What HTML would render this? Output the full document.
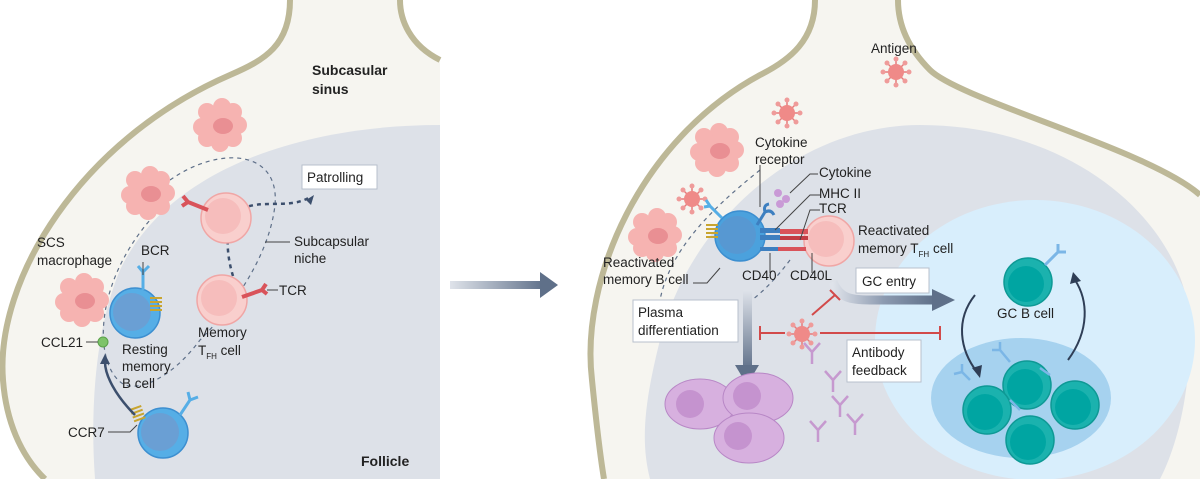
<!DOCTYPE html>
<html><head><meta charset="utf-8"><style>
html,body{margin:0;padding:0;background:#fff;}
svg{display:block;font-family:"Liberation Sans",sans-serif;}
.t{font-size:13.5px;fill:#222;}
.b{font-size:14px;font-weight:bold;fill:#222;}
</style></head><body>
<svg width="1200" height="479" viewBox="0 0 1200 479">
<defs>
<linearGradient id="ga" x1="0" x2="1"><stop offset="0" stop-color="#dfe3ea"/><stop offset="1" stop-color="#5f7089"/></linearGradient>
<linearGradient id="gd" x1="0" y1="0" x2="0" y2="1"><stop offset="0" stop-color="#dfe3ea"/><stop offset="1" stop-color="#5f7089"/></linearGradient>
<linearGradient id="gr" x1="0" x2="1"><stop offset="0" stop-color="#dfe3ea"/><stop offset="0.5" stop-color="#8c9ab0"/><stop offset="1" stop-color="#5f7089"/></linearGradient>
<g id="mac"><circle r="19" fill="#f6b3b1"/>
<circle cx="18" cy="0" r="9" fill="#f6b3b1"/><circle cx="-18" cy="2" r="9" fill="#f6b3b1"/><circle cx="0" cy="18" r="9" fill="#f6b3b1"/><circle cx="2" cy="-18" r="9" fill="#f6b3b1"/>
<circle cx="13" cy="13" r="9" fill="#f6b3b1"/><circle cx="-13" cy="-13" r="9" fill="#f6b3b1"/><circle cx="13" cy="-13" r="9" fill="#f6b3b1"/><circle cx="-13" cy="13" r="9" fill="#f6b3b1"/>
<ellipse cx="3" cy="1" rx="10" ry="8" fill="#e98f93"/></g>
<g id="vir"><g stroke="#e57a7a" stroke-width="1.5"><line x1="-13" y1="0" x2="13" y2="0"/><line x1="0" y1="-13" x2="0" y2="13"/><line x1="-9" y1="-9" x2="9" y2="9"/><line x1="-9" y1="9" x2="9" y2="-9"/></g>
<circle r="8" fill="#ef8a88"/><g fill="#ef9b9a"><circle cx="-13" r="2.5"/><circle cx="13" r="2.5"/><circle cy="-13" r="2.5"/><circle cy="13" r="2.5"/><circle cx="-9" cy="-9" r="2.5"/><circle cx="9" cy="9" r="2.5"/><circle cx="-9" cy="9" r="2.5"/><circle cx="9" cy="-9" r="2.5"/></g></g>
<g id="tc"><circle r="25" fill="#f9cfcd" stroke="#f0a6a5" stroke-width="1.5"/><circle cx="-3" cy="-2" r="18" fill="#f6bdbc"/></g>
<g id="bc"><circle r="25" fill="#56aee6" stroke="#3d8fd0" stroke-width="1.5"/><circle cx="-3" cy="-1" r="19" fill="#6a9fd4"/></g>
<g id="gc"><circle r="24" fill="#1bb2ae" stroke="#0e9995" stroke-width="1.5"/><circle cx="-2" cy="2" r="18" fill="#00a5a2"/></g>
<g id="ab" stroke="#c699cf" stroke-width="2.5" fill="none"><path d="M0,12 L0,0 L-8,-9 M0,0 L8,-9"/></g>
<g id="coil" fill="none" stroke="#c8a530" stroke-width="2"><path d="M0,0 h12 M0,4 h12 M0,8 h12 M0,12 h12"/></g>
</defs>

<!-- LEFT PANEL -->
<path d="M290,0 C290,45 265,60 230,75 C80,140 -5,280 3,380 C6,420 20,455 45,479 L440,479 L440,60 C410,40 400,20 400,0 Z" fill="#f6f5f0"/>
<path d="M290,0 C290,45 265,60 230,75 C80,140 -5,280 3,380 C6,420 20,455 45,479" fill="none" stroke="#bdb897" stroke-width="6"/>
<path d="M400,0 C400,20 410,45 440,60" fill="none" stroke="#bdb897" stroke-width="6"/>
<path d="M440,125 C310,125 170,165 120,270 C95,330 90,410 95,479 L440,479 Z" fill="#dde1e8"/>

<path d="M170,180 C220,145 280,150 275,205 C270,250 240,300 200,340 C170,380 140,390 125,385 C95,370 90,290 150,220" fill="none" stroke="#5f7089" stroke-width="1.2" stroke-dasharray="4,4"/>
<path d="M233,276 C225,250 225,220 240,210 C260,198 290,210 310,197" fill="none" stroke="#3c4f6d" stroke-width="2.5" stroke-dasharray="4,4"/>
<path d="M306,200 l8,-5 l-3,10z" fill="#3c4f6d"/>
<use href="#mac" x="220" y="125"/>
<use href="#mac" x="148" y="193"/>
<use href="#mac" x="82" y="300"/>
<use href="#tc" x="226" y="218"/>
<use href="#tc" x="222" y="300"/>
<path d="M208,210 L188,202 M188,202 l-5,-6 M188,202 l-6,4" stroke="#d9535a" stroke-width="4" fill="none"/>
<path d="M242,297 L262,290 M262,290 l4,-6 M262,290 l5,4" stroke="#d9535a" stroke-width="4" fill="none"/>
<use href="#bc" x="135" y="313"/>
<use href="#bc" x="163" y="433"/>
<path d="M143,290 L143,272 l-5,-6 M143,272 l6,-6" stroke="#56aee6" stroke-width="3" fill="none"/>
<path d="M180,415 L190,400 l-2,-8 M190,400 l8,-3" stroke="#56aee6" stroke-width="3" fill="none"/>
<use href="#coil" x="150" y="298"/>
<g transform="translate(130,410) rotate(-20)"><use href="#coil"/></g>
<circle cx="103" cy="342" r="5" fill="#7dc36a" stroke="#5aa14a"/>
<path d="M135,415 C115,395 105,375 105,362" fill="none" stroke="#3c4f6d" stroke-width="2.5"/>
<path d="M100,364 l5,-10 l5,10z" fill="#3c4f6d"/>
<g fill="none" stroke="#444" stroke-width="1"><path d="M86,342 H98 M143,262 V275 M265,242 H290 M267,290 H278 M108,432 H130 L137,425"/></g>
<rect x="302" y="165" width="75" height="24" fill="#fff" stroke="#b8c0cc"/>
<text class="t" x="307" y="182">Patrolling</text>
<text class="b" x="312" y="75">Subcasular</text><text class="b" x="312" y="94">sinus</text>
<text class="b" x="361" y="466">Follicle</text>
<text class="t" x="37" y="247">SCS</text><text class="t" x="37" y="265">macrophage</text>
<text class="t" x="141" y="255">BCR</text>
<text class="t" x="294" y="246">Subcapsular</text><text class="t" x="294" y="263">niche</text>
<text class="t" x="279" y="295">TCR</text>
<text class="t" x="198" y="337">Memory</text>
<text class="t" x="198" y="355">T<tspan font-size="8" dy="4">FH</tspan><tspan dy="-4"> cell</tspan></text>
<text class="t" x="122" y="354">Resting</text><text class="t" x="122" y="371">memory</text><text class="t" x="122" y="388">B cell</text>
<text class="t" x="41" y="347">CCL21</text>
<text class="t" x="68" y="437">CCR7</text>

<!-- middle arrow -->
<rect x="450" y="281" width="95" height="8" fill="url(#ga)"/>
<path d="M540,272 L558,285 L540,298 Z" fill="#5f7089"/>

<!-- RIGHT PANEL -->
<path d="M815,0 C815,40 790,60 760,75 C640,140 580,280 592,380 C596,420 600,455 604,479 L1200,479 L1200,195 C1150,150 960,100 930,70 C905,45 898,20 898,0 Z" fill="#f6f5f0"/>
<path d="M815,0 C815,40 790,60 760,75 C640,140 580,280 592,380 C596,420 600,455 604,479" fill="none" stroke="#bdb897" stroke-width="6"/>
<path d="M898,0 C898,20 905,45 930,70 C960,100 1150,150 1200,195" fill="none" stroke="#bdb897" stroke-width="6"/>
<path d="M920,125 C1080,125 1190,230 1190,330 C1190,400 1175,450 1160,479 L650,479 C640,440 645,400 660,340 C690,220 800,125 920,125 Z" fill="#dde1e8"/>
<ellipse cx="1035" cy="340" rx="160" ry="140" fill="#d8eefc"/>
<ellipse cx="1021" cy="398" rx="90" ry="60" fill="#a6d2ef"/>

<path d="M760,170 C710,210 670,250 660,300" fill="none" stroke="#5f7089" stroke-width="1.2" stroke-dasharray="4,4"/>
<path d="M790,260 C775,280 760,295 745,305" fill="none" stroke="#5f7089" stroke-width="1.2" stroke-dasharray="4,4"/>

<use href="#vir" x="896" y="72"/>
<use href="#vir" x="787" y="113"/>
<use href="#vir" x="692" y="199"/>
<use href="#mac" x="717" y="150"/>
<use href="#mac" x="655" y="235"/>

<rect x="743" y="290" width="9" height="80" fill="url(#gd)"/>
<path d="M735,365 L747,385 L759,365 Z" fill="#5f7089"/>
<path d="M833,282 C840,298 850,300 870,300 L935,300" fill="none" stroke="url(#gr)" stroke-width="9"/>
<path d="M932,289 L955,300 L932,311 Z" fill="#5f7089"/>
<g stroke="#d24a4a" stroke-width="2" fill="none">
<path d="M760,333 H785 M760,326 V340 M820,333 H940 M940,326 V340 M812,315 L835,295 M830,290 L840,300"/></g>
<use href="#vir" x="802" y="334"/>

<use href="#bc" x="740" y="236"/>
<circle cx="740" cy="236" r="25" fill="#3d8fd0" opacity="0.4"/>
<use href="#tc" x="829" y="241"/>
<path d="M757,225 L765,212 M765,212 q-2,-7 4,-8 M765,212 q6,-3 9,3" stroke="#3d7fc0" stroke-width="3" fill="none"/>
<path d="M722,218 L710,206 l-4,-6 M710,206 l-6,1" stroke="#56aee6" stroke-width="3" fill="none"/>
<rect x="760" y="228" width="20" height="5" fill="#3d7fc0"/><rect x="760" y="235" width="20" height="5" fill="#3d7fc0"/>
<rect x="780" y="229" width="28" height="5" fill="#d9535a"/><rect x="780" y="236" width="28" height="4" fill="#c23c44"/>
<rect x="760" y="247" width="18" height="4" fill="#3d7fc0"/><rect x="778" y="247" width="28" height="4" fill="#d9535a"/>
<use href="#coil" x="706" y="225"/>
<circle cx="778" cy="193" r="4" fill="#c99ad6"/><circle cx="786" cy="199" r="4" fill="#c99ad6"/><circle cx="780" cy="204" r="4" fill="#c99ad6"/>
<g fill="none" stroke="#444" stroke-width="1"><path d="M760,165 V207 M790,193 L810,174 H818 M775,230 L810,195 H820 M800,240 L810,210 H820 M770,253 V273 M812,253 V273 M693,283 H707 L720,268"/></g>

<g stroke="#b887c6" stroke-width="1">
<ellipse cx="700" cy="404" rx="35" ry="25" fill="#d7b0df"/>
<ellipse cx="758" cy="398" rx="35" ry="25" fill="#d7b0df"/>
<ellipse cx="749" cy="438" rx="35" ry="25" fill="#d7b0df"/></g>
<circle cx="690" cy="404" r="14" fill="#c593cf"/><circle cx="747" cy="396" r="14" fill="#c593cf"/><circle cx="738" cy="436" r="14" fill="#c593cf"/>
<use href="#ab" x="812" y="352"/><use href="#ab" x="833" y="380"/><use href="#ab" x="840" y="405"/><use href="#ab" x="818" y="430"/><use href="#ab" x="855" y="423"/>

<use href="#gc" x="1028" y="282"/>
<path d="M1045,265 L1058,252 l0,-8 M1058,252 l8,0" stroke="#7bb6e6" stroke-width="3" fill="none"/>
<use href="#gc" x="1027" y="385"/>
<use href="#gc" x="1075" y="405"/>
<use href="#gc" x="987" y="410"/>
<use href="#gc" x="1030" y="440"/>
<g stroke="#7bb6e6" stroke-width="2.5" fill="none"><path d="M970,380 L962,372 l-8,2 M962,372 l0,-8 M1010,362 L1000,350 l-8,0 M1000,350 l0,-8 M1050,375 L1040,368 M1020,410 L1010,400"/></g>
<path d="M975,295 C955,320 960,350 977,372" fill="none" stroke="#2f3e56" stroke-width="2"/>
<path d="M972,368 L980,378 L982,365 Z" fill="#2f3e56"/>
<path d="M1068,360 C1090,330 1088,300 1075,280" fill="none" stroke="#2f3e56" stroke-width="2"/>
<path d="M1070,284 L1073,272 L1081,281 Z" fill="#2f3e56"/>

<text class="t" x="871" y="53">Antigen</text>
<text class="t" x="755" y="147">Cytokine</text><text class="t" x="755" y="164">receptor</text>
<text class="t" x="819" y="177">Cytokine</text>
<text class="t" x="819" y="198">MHC II</text>
<text class="t" x="819" y="213">TCR</text>
<text class="t" x="858" y="235">Reactivated</text>
<text class="t" x="858" y="253">memory T<tspan font-size="8" dy="4">FH</tspan><tspan dy="-4"> cell</tspan></text>
<text class="t" x="603" y="267">Reactivated</text><text class="t" x="603" y="284">memory B cell</text>
<text class="t" x="742" y="280">CD40</text><text class="t" x="790" y="280">CD40L</text>
<rect x="856" y="268" width="73" height="25" fill="#fff" stroke="#b8c0cc"/>
<text class="t" x="862" y="286">GC entry</text>
<rect x="633" y="300" width="105" height="42" fill="#fff" stroke="#b8c0cc"/>
<text class="t" x="638" y="317">Plasma</text><text class="t" x="638" y="335">differentiation</text>
<rect x="847" y="340" width="74" height="42" fill="#fff" stroke="#b8c0cc"/>
<text class="t" x="852" y="357">Antibody</text><text class="t" x="852" y="375">feedback</text>
<text class="t" x="997" y="318">GC B cell</text>
</svg>
</body></html>
